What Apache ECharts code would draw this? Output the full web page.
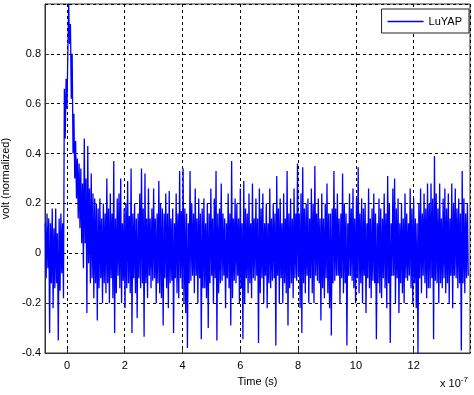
<!DOCTYPE html>
<html><head><meta charset="utf-8">
<script src="https://cdn.jsdelivr.net/npm/echarts@6/dist/echarts.min.js"></script>
<style>html,body{margin:0;padding:0;background:#fff}#c{width:474px;height:395px}</style>
</head><body><div id="c"></div>
<script>
const seriesName = 'LuYAP';
const timeStart = -0.75;   // in units of 1e-7 s
const timeStep = 0.03;
const xLabels = [0, 2, 4, 6, 8, 10, 12];
const yLabels = [-0.4, -0.2, 0, 0.2, 0.4, 0.6, 0.8];
const volt = [
0.12,-0.10,0.16,-0.06,0.14,-0.32,0.12,-0.12,0.18,-0.22,
0.10,-0.14,0.18,-0.12,0.08,-0.35,0.14,-0.15,0.16,-0.08,
0.12,-0.18,
0.66,0.46,0.70,0.58,0.80,1.00,0.84,0.92,0.62,0.80,
0.40,0.56,0.30,0.45,0.22,0.38,0.14,0.36,0.10,0.34,
0.04,0.28,
-0.06,0.46,0.04,0.30,-0.24,0.43,-0.04,0.26,-0.12,0.32,
-0.10,0.24,-0.18,0.22,-0.12,0.20,-0.27,
0.18,-0.14,0.22,-0.10,0.14,-0.20,0.20,-0.12,0.16,-0.16,
0.30,-0.12,0.18,-0.20,0.24,-0.10,0.16,-0.18,0.37,-0.32,
0.14,-0.16,0.22,-0.09,0.24,-0.14,0.30,-0.20,0.12,-0.11,
0.18,-0.22,0.20,-0.14,0.29,-0.12,0.15,-0.16,0.34,-0.32,
0.16,-0.10,0.20,-0.16,0.14,-0.26,0.16,-0.10,0.24,-0.14,
0.34,-0.12,0.18,-0.335,0.32,-0.12,0.14,-0.18,0.26,-0.09,
0.14,-0.14,0.18,-0.11,0.26,-0.10,0.14,-0.20,0.16,-0.12,
0.29,-0.16,0.20,-0.18,0.18,-0.29,0.16,-0.10,0.24,-0.14,
0.16,-0.22,0.25,-0.12,0.14,-0.11,0.18,-0.32,0.12,-0.10,
0.24,-0.16,0.16,-0.18,0.33,-0.10,0.17,-0.14,0.34,-0.20,
0.18,-0.24,0.16,-0.38,0.12,-0.12,0.33,-0.11,0.20,-0.09,
0.16,-0.16,0.26,-0.09,0.14,-0.20,0.22,-0.10,0.16,-0.345,
0.18,-0.14,0.22,-0.14,0.12,-0.18,0.20,-0.30,0.16,-0.12,
0.26,-0.09,0.14,-0.20,0.22,-0.10,0.33,-0.35,0.16,-0.16,
0.18,-0.12,0.28,-0.11,0.16,-0.09,0.14,-0.22,0.12,-0.10,
0.24,-0.14,0.16,-0.29,0.37,-0.18,0.14,-0.11,0.22,-0.12,
0.20,-0.09,0.14,-0.20,0.26,-0.14,0.12,-0.345,0.29,-0.20,
0.18,-0.10,0.16,-0.16,0.24,-0.12,0.12,-0.18,0.28,-0.10,
0.14,-0.11,0.22,-0.09,0.14,-0.36,0.26,-0.16,0.18,-0.10,
0.24,-0.20,0.12,-0.09,0.20,-0.22,0.12,-0.12,0.26,-0.14,
0.14,-0.11,0.20,-0.10,0.16,-0.37,0.31,-0.09,0.18,-0.20,
0.22,-0.10,0.12,-0.20,0.24,-0.12,0.14,-0.16,0.33,-0.29,
0.16,-0.14,0.22,-0.12,0.14,-0.18,0.26,-0.10,0.16,-0.11,
0.36,-0.09,0.16,-0.22,0.24,-0.32,0.345,-0.12,0.18,-0.16,
0.20,-0.09,0.22,-0.20,0.14,-0.10,0.26,-0.16,0.20,-0.20,
0.35,-0.09,0.16,-0.11,0.22,-0.12,0.14,-0.27,0.24,-0.14,
0.14,-0.18,0.20,-0.10,0.28,-0.16,0.16,-0.22,0.16,-0.33,
0.18,-0.12,0.33,-0.11,0.18,-0.09,0.24,-0.09,0.14,-0.20,
0.16,-0.10,0.32,-0.16,0.20,-0.12,0.16,-0.37,0.12,-0.09,
0.24,-0.09,0.18,-0.11,0.26,-0.14,0.14,-0.20,0.22,-0.10,
0.345,-0.16,0.16,-0.12,0.22,-0.20,0.18,-0.09,0.20,-0.24,
0.12,-0.10,0.26,-0.14,0.14,-0.18,0.18,-0.11,0.24,-0.12,
0.16,-0.345,0.12,-0.12,0.22,-0.16,0.18,-0.18,0.14,-0.10,
0.24,-0.14,0.16,-0.22,0.31,-0.12,0.20,-0.36,0.12,-0.09,
0.26,-0.09,0.30,-0.20,0.18,-0.10,0.22,-0.24,0.12,-0.12,
0.20,-0.16,0.14,-0.20,0.24,-0.10,0.16,-0.11,0.12,-0.09,
0.26,-0.14,0.18,-0.20,0.22,-0.12,0.14,-0.22,0.12,-0.40,
0.20,-0.10,0.26,-0.16,0.16,-0.09,0.24,-0.12,0.18,-0.18,
0.28,-0.14,0.20,-0.14,0.28,-0.10,0.22,-0.345,0.39,-0.11,
0.24,-0.12,0.18,-0.20,0.28,-0.12,0.14,-0.14,0.22,-0.10,
0.26,-0.16,0.18,-0.12,0.24,-0.20,0.14,-0.09,0.28,-0.22,
0.20,-0.09,0.26,-0.10,0.18,-0.14,0.22,-0.12,0.16,-0.39,
0.33,-0.12,0.22,-0.16,0.16,-0.10,0.20,-0.09
];

const FONT = 'Liberation Sans, Arial, sans-serif';
const chart = echarts.init(document.getElementById('c'), null, {renderer: 'canvas'});
const near = (v, list) => list.some(t => Math.abs(t - v) < 1e-6);
chart.setOption({
  animation: false,
  backgroundColor: '#fff',
  grid: {left: 45, right: 4, top: 4, bottom: 42, containLabel: false, outerBoundsMode: 'none',
    show: true, borderColor: '#333', borderWidth: 1, backgroundColor: 'transparent'},
  legend: {
    data: [{name: seriesName, icon: 'path://M0,0H36V1.4H0Z',
      itemStyle: {color: '#0000ff', borderColor: '#0000ff', borderWidth: 0}}],
    right: 5, top: 9, orient: 'horizontal',
    padding: [6, 7, 5, 6], itemWidth: 36, itemHeight: 1.4,
    backgroundColor: '#fff', borderColor: '#222', borderWidth: 1, borderRadius: 0,
    itemStyle: {color: '#0000ff', borderColor: '#0000ff', borderWidth: 0},
    lineStyle: {color: '#0000ff', width: 1},
    textStyle: {fontFamily: FONT, fontSize: 11, color: '#000', lineHeight: 13}
  },
  xAxis: {
    type: 'value', min: -0.76, max: 13.95, splitNumber: 7,
    name: 'Time (s)', nameLocation: 'middle', nameGap: 23,
    nameTextStyle: {fontFamily: FONT, fontSize: 11, color: '#000'},
    axisLine: {show: true, onZero: false, lineStyle: {color: '#333', width: 1}},
    axisTick: {show: true, inside: true, length: 4, lineStyle: {color: '#333'}},
    axisLabel: {fontFamily: FONT, fontSize: 11, color: '#000', margin: 7,
      showMinLabel: false, showMaxLabel: false,
      formatter: v => near(v, xLabels) ? String(Math.round(v)) : ''},
    splitLine: {show: true, lineStyle: {color: '#000', type: [3, 3], width: 1}}
  },
  yAxis: {
    type: 'value', min: -0.4, max: 1.0, interval: 0.2,
    name: 'volt (normalized)', nameLocation: 'middle', nameGap: 29,
    nameTextStyle: {fontFamily: FONT, fontSize: 11, color: '#000'},
    axisLine: {show: true, onZero: false, lineStyle: {color: '#333', width: 1}},
    axisTick: {show: true, inside: true, length: 4, lineStyle: {color: '#333'}},
    axisLabel: {fontFamily: FONT, fontSize: 11, color: '#000', margin: 4,
      showMaxLabel: false,
      formatter: v => near(v, yLabels) ? (Math.abs(v) < 1e-9 ? '0' : v.toFixed(1)) : ''},
    splitLine: {show: true, lineStyle: {color: '#000', type: [3, 3], width: 1}}
  },
  graphic: [{
    type: 'text', left: 440, top: 376, z: 10,
    style: {
      text: '{a|x 10}{b|-7}',
      rich: {
        a: {fontFamily: FONT, fontSize: 11, fill: '#000'},
        b: {fontFamily: FONT, fontSize: 8, fill: '#000', padding: [0, 0, 8, 0]}
      }
    }
  }],
  series: [{
    name: seriesName, type: 'line', symbol: 'none', showSymbol: false,
    sampling: null, clip: true,
    lineStyle: {color: '#0000ff', width: 1.3},
    itemStyle: {color: '#0000ff'},
    data: volt.map((v, i) => [timeStart + i * timeStep, v])
  }]
});
</script>
</body></html>
